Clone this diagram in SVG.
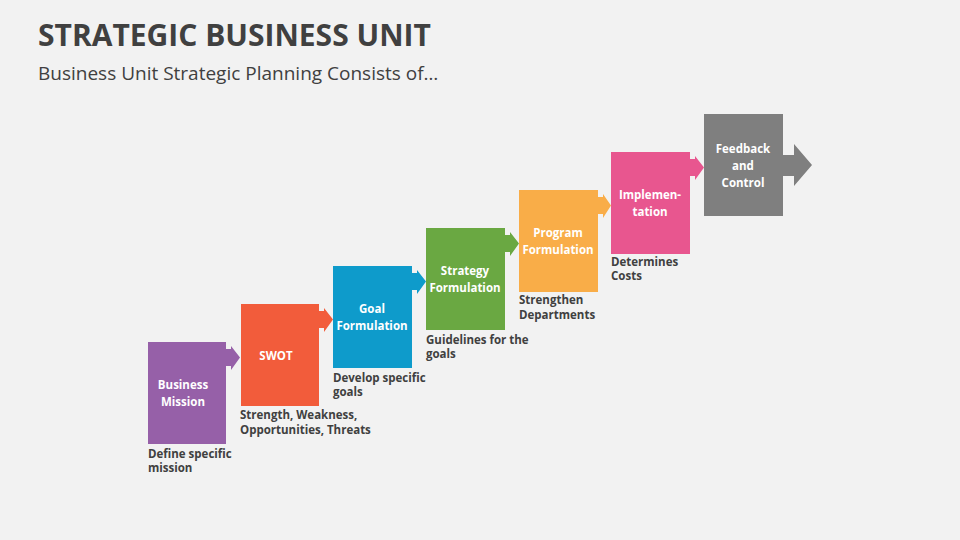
<svg xmlns="http://www.w3.org/2000/svg" width="960" height="540" viewBox="0 0 960 540">
<style>
.lb{font-family:"Open Sans","Liberation Sans",sans-serif;font-weight:bold;font-size:11.5px;fill:#fff;text-anchor:middle}
.ds{font-family:"Open Sans","Liberation Sans",sans-serif;font-weight:bold;font-size:11.5px;fill:#404040}
</style>
<rect width="960" height="540" fill="#f2f2f2"/>
<text x="38" y="46" font-family="Open Sans,Liberation Sans,sans-serif" font-weight="bold" font-size="30" fill="#404040">STRATEGIC BUSINESS UNIT</text>
<text x="38" y="80" font-family="Open Sans,Liberation Sans,sans-serif" font-size="19" fill="#404040">Business Unit Strategic Planning Consists of…</text>
<g id="connectors">
<polygon points="226,349 231,349 231,346 240,357.5 231,370 231,366 226,366" fill="#9660a8"/>
<polygon points="319,311 324,311 324,308 333,319.5 324,332 324,328 319,328" fill="#f25c3b"/>
<polygon points="412,273 417,273 417,270 426,281.5 417,294 417,290 412,290" fill="#0e9bcb"/>
<polygon points="505,235 510,235 510,232 519,243.5 510,256 510,252 505,252" fill="#6aa842"/>
<polygon points="598,197 603,197 603,194 611,205.5 603,218 603,214 598,214" fill="#f9ad48"/>
<polygon points="690,159 695,159 695,156 704,167.5 695,180 695,176 690,176" fill="#e8568f"/>
<polygon points="783,155 794,155 794,144 812,165 794,186 794,176 783,176" fill="#7f7f7f"/>
</g>
<g id="n1"><rect x="148" y="342" width="78" height="102" fill="#9660a8"/><text class="lb" x="183" y="389">Business</text><text class="lb" x="183" y="406">Mission</text><text class="ds" x="148" y="458">Define  specific</text><text class="ds" x="148" y="472">mission</text></g>
<g id="n2"><rect x="241" y="304" width="78" height="102" fill="#f25c3b"/><text class="lb" x="276" y="360">SWOT</text><text class="ds" x="240" y="419">Strength, Weakness,</text><text class="ds" x="240" y="434">Opportunities, Threats</text></g>
<g id="n3"><rect x="333" y="266" width="79" height="102" fill="#0e9bcb"/><text class="lb" x="372" y="313">Goal</text><text class="lb" x="372" y="330">Formulation</text><text class="ds" x="333" y="382">Develop specific</text><text class="ds" x="333" y="396">goals</text></g>
<g id="n4"><rect x="426" y="228" width="79" height="102" fill="#6aa842"/><text class="lb" x="465" y="275">Strategy</text><text class="lb" x="465" y="292">Formulation</text><text class="ds" x="426" y="344">Guidelines for the</text><text class="ds" x="426" y="358">goals</text></g>
<g id="n5"><rect x="519" y="190" width="79" height="102" fill="#f9ad48"/><text class="lb" x="558" y="237">Program</text><text class="lb" x="558" y="254">Formulation</text><text class="ds" x="519" y="304">Strengthen</text><text class="ds" x="519" y="319">Departments</text></g>
<g id="n6"><rect x="611" y="152" width="79" height="102" fill="#e8568f"/><text class="lb" x="650" y="199">Implemen-</text><text class="lb" x="650" y="216">tation</text><text class="ds" x="611" y="266">Determines</text><text class="ds" x="611" y="280">Costs</text></g>
<g id="n7"><rect x="704" y="114" width="79" height="102" fill="#7f7f7f"/><text class="lb" x="743" y="153">Feedback</text><text class="lb" x="743" y="170">and</text><text class="lb" x="743" y="187">Control</text></g>
</svg>
